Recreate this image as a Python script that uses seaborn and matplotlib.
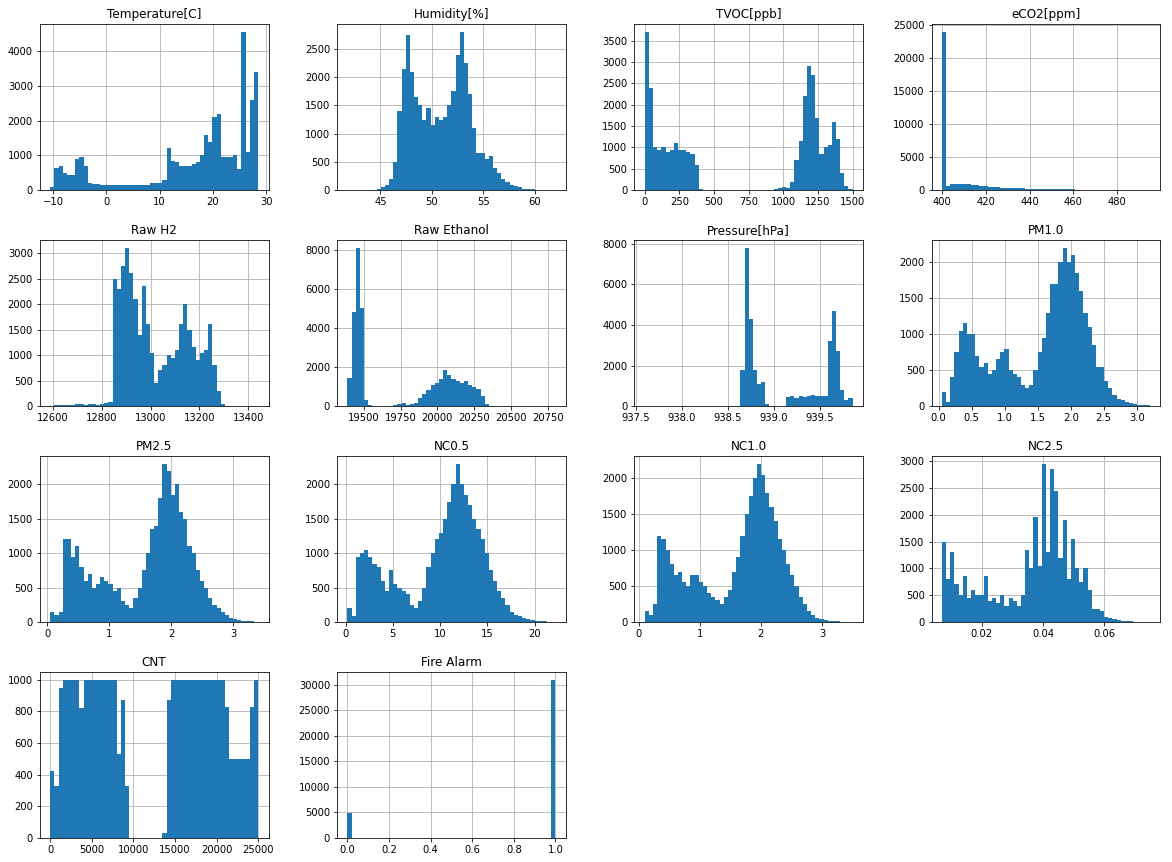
import numpy as np
import seaborn as sns
import matplotlib.pyplot as plt

# bin counts (50 bins each), with the value range of each column
temperature = [100,650,700,500,450,450,900,950,700,200,
               180,170,160,160,160,160,160,160,160,160,
               150,150,140,150,200,200,200,300,1200,850,
               800,700,700,700,750,800,1000,1600,1400,2100,
               2200,950,950,950,1000,600,4550,1100,2600,3400]
humidity = [0,0,0,0,0,0,10,20,50,100, 200,500,1400,2150,2750,2100,1650,1500,1250,1450,
            1150,1300,1250,1300,1500,1750,2400,2800,2250,1700, 1100,650,650,550,600,400,300,200,150,100,
            80,50,30,20,15,10,10,5,5,2]
tvoc = [3700,2400,1000,950,1000,900,950,1100,950,950, 900,850,580,20,10,0,0,0,0,0,
        0,0,0,0,0,0,0,0,0,0, 10,30,60,80,60,200,700,1150,2200,2900,
        2700,1700,850,1000,1050,1600,1200,400,100,20]
eco2 = [24000,700,1000,1000,950,950,900,850,750,700, 600,550,500,450,400,350,320,300,280,260,
        240,220,200,190,180,170,160,150,140,130, 120,110,100,100,90,90,80,80,70,70,
        60,60,50,50,40,40,30,30,20,20]
raw_h2 = [10,20,20,30,20,30,40,40,30,50, 40,30,50,60,80,
          2500,2300,2750,3100,2600, 2100,1400,2350,1600,1050, 450,700,800,1000,950,
          1100,1600,2000,1500,1150, 900,1050,1100,1600,800,
          300,50,10,5,5,0,0,0,0,5]
raw_ethanol = [1450,4800,8100,5000,300,50,20,10,10,10, 20,50,100,150,80,100,150,400,600,800,
               1100,1200,1400,1850,1600,1400,1300,1200,1300,1100, 1000,900,500,100,20,10,5,0,0,0,
               0,0,0,0,0,0,0,0,0,5]
pressure = [5]*23 + [1800,7800,4300,1800,1100,1200,100, 0,0,0,0,
            450,500,400,500,450,500,550,500,500,500, 3200,4700,2700,800,300,400]
pm10 = [200,50,400,750,1050,1150,1000,1000,700,550, 600,450,500,650,750,800,500,450,400,300,
        250,300,500,750,950,1300,1700,1700,2000,2200, 2000,2100,1850,1600,1300,1100,850,550,550,350,
        250,150,100,80,60,40,30,20,15,10]
pm25 = [150,100,150,1200,1200,950,1100,800,600,700, 500,550,650,600,550,450,500,300,250,200,
        350,500,750,1000,1350,1400,1800,2300,2200,1850, 2000,1600,1500,1100,1000,750,600,500,350,250,
        200,150,100,60,40,30,20,15,10,5]
nc05 = [200,80,950,1000,1050,950,850,800,600,450, 750,550,500,450,400,250,200,300,500,800,
        1000,1200,1300,1500,1750,2000,2300,2000,1850,1700, 1500,1350,1200,1000,750,600,450,350,250,150,
        100,80,60,40,30,20,15,10,5,5]
nc10 = [150,100,250,1200,1150,1000,800,650,700,550, 500,650,650,550,500,400,350,300,250,350,
        450,700,900,1200,1500,1750,2000,2200,2050,1800, 1600,1400,1150,1000,800,650,500,350,250,150,
        100,60,40,30,20,15,10,5,5,3]
nc25 = [1500,800,1300,700,500,850,450,600,500,500, 850,400,450,350,500,300,450,400,300,500,
        1350,1000,1950,1050,2950,1300,2850,2450,1200,1900, 800,1550,1000,750,1000,600,250,250,200,100,
        80,50,30,20,10,10,5,5,5,3]
cnt = [420,330,950,1000,1000,1000,1000,820,1000,1000, 1000,1000,1000,1000,1000,1000,530,870,330,0,
       0,0,0,0,0,0,0,30,870,1000, 1000,1000,1000,1000,1000,1000,1000,1000,1000,1000,
       1000,1000,830,500,500,500,500,500,830,1000]
fire_alarm = [4900] + [0]*48 + [31000]

columns = ["Temperature[C]", "Humidity[%]", "TVOC[ppb]", "eCO2[ppm]", "Raw H2", "Raw Ethanol",
           "Pressure[hPa]", "PM1.0", "PM2.5", "NC0.5", "NC1.0", "NC2.5", "CNT", "Fire Alarm"]
counts = [temperature, humidity, tvoc, eco2, raw_h2, raw_ethanol, pressure,
          pm10, pm25, nc05, nc10, nc25, cnt, fire_alarm]
ranges = [(-10.5, 28.5), (41.8, 62.0), (0, 1500), (400, 495), (12590, 13440), (19390, 20800),
          (937.6, 939.86), (0.05, 3.2), (0.05, 3.4), (0.2, 22.2), (0.1, 3.5), (0.007, 0.075),
          (0, 25000), (0, 1)]

fig, axes = plt.subplots(4, 4, figsize=(1172 / 72, 862 / 72), dpi=72)
axes = axes.ravel()

for ax, name, c, (lo, hi) in zip(axes, columns, counts, ranges):
    edges = np.linspace(lo, hi, 51)
    centers = (edges[:-1] + edges[1:]) / 2
    sns.histplot(x=centers, weights=np.asarray(c, dtype=float), bins=50, binrange=(lo, hi),
                 ax=ax, color="#1f77b4", alpha=1, linewidth=0, zorder=2)
    ax.set_title(name, fontsize=12)
    ax.set_xlabel("")
    ax.set_ylabel("")
    ax.grid(True, color="#b0b0b0", linewidth=0.8, zorder=0)
    ax.set_axisbelow(True)
    ax.tick_params(labelsize=10)

for ax in axes[len(columns):]:
    ax.set_visible(False)

plt.subplots_adjust(left=0.034, right=0.99, top=0.972, bottom=0.028, wspace=0.3, hspace=0.3)
plt.savefig("out.png", dpi=72)
